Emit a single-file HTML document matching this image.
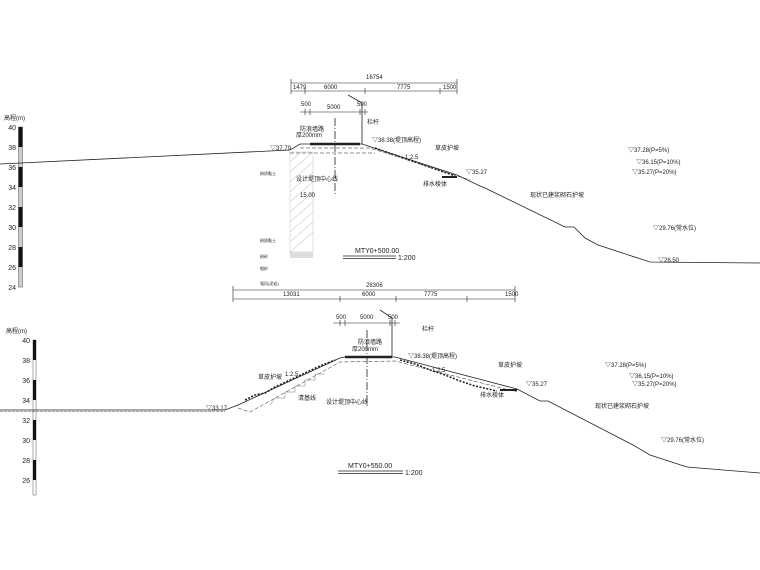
<!DOCTYPE html>
<html><head><meta charset="utf-8"><style>
html,body{margin:0;padding:0;background:#fff;width:760px;height:570px;overflow:hidden}
svg{display:block}
text{font-family:"Liberation Sans","Noto Sans CJK SC",sans-serif;fill:#222}
.s{font-size:6px}.m{font-size:7px}.l{font-size:9px}
</style></head><body>
<svg width="760" height="570" viewBox="0 0 760 570" xmlns="http://www.w3.org/2000/svg" stroke="#222" fill="none" stroke-width="0.8">
<!-- ===== TOP SECTION ===== -->
<text class="s" x="4" y="120" stroke="none">高程(m)</text>
<rect x="18.5" y="127" width="4" height="160" fill="#ccc" stroke="#555" stroke-width="0.5"/>
<g fill="#111" stroke="none">
<rect x="18.5" y="127" width="4" height="20"/><rect x="18.5" y="167" width="4" height="20"/><rect x="18.5" y="207" width="4" height="20"/><rect x="18.5" y="247" width="4" height="20"/></g>
<g class="m" stroke="none" text-anchor="end">
<text x="16" y="130">40</text><text x="16" y="150">38</text><text x="16" y="170">36</text><text x="16" y="190">34</text><text x="16" y="210">32</text><text x="16" y="230">30</text><text x="16" y="250">28</text><text x="16" y="270">26</text><text x="16" y="290">24</text></g>
<polyline points="0,164 290,150 300,144 362,144 457,175 480,186 485,188 565,227 574,227 585,238 598,245 650,262 760,263"/>
<line x1="310" y1="144" x2="360" y2="144" stroke-width="2.5"/>
<polyline points="290,153 375,153" stroke-dasharray="4,2" stroke-width="0.5"/>
<polyline points="300,148 370,148 470,180" stroke-dasharray="4,2" stroke-width="0.5"/>
<line x1="442" y1="177" x2="457" y2="177" stroke-width="2"/>
<polyline points="375,148 455,176" stroke-width="1.5" stroke-dasharray="2,1.5"/>
<line x1="335" y1="118" x2="335" y2="195" stroke-dasharray="8,2,1,2"/>
<line x1="362" y1="103" x2="362" y2="144"/><line x1="362" y1="103" x2="348" y2="95"/>
<rect x="290" y="152" width="23" height="100" stroke-width="0.3" stroke="#999"/>
<g stroke="#999" stroke-width="0.4">
<line x1="290" y1="172" x2="313" y2="152"/><line x1="290" y1="192" x2="313" y2="172"/><line x1="290" y1="212" x2="313" y2="192"/><line x1="290" y1="232" x2="313" y2="212"/><line x1="290" y1="252" x2="313" y2="232"/><line x1="290" y1="162" x2="301" y2="152"/><line x1="290" y1="182" x2="313" y2="162"/><line x1="290" y1="202" x2="313" y2="182"/><line x1="290" y1="222" x2="313" y2="202"/><line x1="290" y1="242" x2="313" y2="222"/></g>
<rect x="290" y="252" width="23" height="6" fill="#ddd" stroke="none"/>
<g stroke="none" fill="#555"><text x="260" y="175" font-size="4">粉质黏土</text><text x="260" y="242" font-size="4">粉质黏土</text><text x="260" y="258" font-size="4">粉砂</text><text x="260" y="270" font-size="4">细砂</text><text x="260" y="285" font-size="4">强风(泥岩)</text></g>
<g stroke-width="0.6">
<line x1="291" y1="83" x2="457" y2="83"/><line x1="291" y1="91" x2="457" y2="91"/>
<line x1="291" y1="79" x2="291" y2="94"/><line x1="457" y1="79" x2="457" y2="94"/>
<line x1="305" y1="88" x2="305" y2="94"/><line x1="365" y1="88" x2="365" y2="94"/><line x1="440" y1="88" x2="440" y2="94"/>
<line x1="300" y1="112" x2="368" y2="112"/>
<line x1="305" y1="109" x2="305" y2="115"/><line x1="310" y1="109" x2="310" y2="115"/><line x1="360" y1="109" x2="360" y2="115"/><line x1="365" y1="109" x2="365" y2="115"/></g>
<g class="s" stroke="none">
<text x="366" y="79">16754</text><text x="293" y="89">1479</text><text x="324" y="89">6000</text><text x="397" y="89">7775</text><text x="443" y="89">1500</text>
<text x="301" y="106">500</text><text x="327" y="109">5000</text><text x="357" y="106">500</text>
<text x="300" y="131">防浪墙路</text><text x="296" y="137">厚200mm</text><text x="367" y="124">栏杆</text>
<text x="372" y="142">▽38.38(堤顶高程)</text><text x="435" y="150">草皮护坡</text><text x="423" y="186">排水棱体</text>
<text x="466" y="174">▽35.27</text><text x="270" y="150">▽37.79</text>
<text x="296" y="181">设计堤顶中心线</text><text x="300" y="197">15.00</text>
<text x="530" y="197">现状已建浆砌石护坡</text><text x="405" y="159">1:2.5</text>
<text x="628" y="152">▽37.28(P=5%)</text><text x="636" y="164">▽36.15(P=10%)</text><text x="632" y="174">▽35.27(P=20%)</text>
<text x="653" y="230">▽29.76(常水位)</text><text x="658" y="262">▽26.50</text></g>
<text class="m" x="355" y="253" stroke="none">MTY0+500.00</text>
<line x1="343" y1="256" x2="396" y2="256"/><line x1="343" y1="258.5" x2="396" y2="258.5"/>
<text class="m" x="398" y="260" stroke="none">1:200</text>

<!-- ===== BOTTOM SECTION ===== -->
<text class="s" x="6" y="333" stroke="none">高程(m)</text>
<rect x="33" y="340" width="3" height="155" fill="#fff" stroke="#555" stroke-width="0.5"/>
<g fill="#111" stroke="none"><rect x="33" y="340" width="3" height="20"/><rect x="33" y="380" width="3" height="20"/><rect x="33" y="420" width="3" height="20"/><rect x="33" y="460" width="3" height="20"/></g>
<g class="m" stroke="none" text-anchor="end">
<text x="30" y="343">40</text><text x="30" y="363">38</text><text x="30" y="383">36</text><text x="30" y="403">34</text><text x="30" y="423">32</text><text x="30" y="443">30</text><text x="30" y="463">28</text><text x="30" y="483">26</text></g>
<polyline points="0,410 225,410 238,405 340,358 345,357 395,357 517,389 540,401 548,401 633,445 650,455 687,467 760,473"/>
<line x1="0" y1="411.5" x2="225" y2="411.5" stroke-dasharray="3,1" stroke-width="0.4"/>
<line x1="345" y1="357" x2="392" y2="357" stroke-width="2.5"/>
<polyline points="238,408 250,412 340,362 395,361 517,392" stroke-dasharray="4,2" stroke-width="0.5"/>
<polyline points="245,400 255,395 265,393 275,387 290,380 305,373 320,366 335,360" stroke-width="1.6" stroke-dasharray="2,1.5"/>
<polyline points="400,360 415,364 430,370 445,375 460,381 475,386 497,391" stroke-width="1.6" stroke-dasharray="2,1.5"/>
<polyline points="270,405 275,398 285,398 285,392 295,392 295,386 305,386 305,380 315,380 315,374 325,374" stroke-width="0.5" stroke="#777"/>
<line x1="500" y1="390" x2="517" y2="390" stroke-width="2"/>
<line x1="367" y1="330" x2="367" y2="408" stroke-dasharray="8,2,1,2"/>
<line x1="392" y1="318" x2="392" y2="357"/><line x1="392" y1="318" x2="380" y2="310"/>
<g stroke-width="0.6">
<line x1="233" y1="290" x2="515" y2="290"/><line x1="233" y1="299" x2="515" y2="299"/>
<line x1="233" y1="286" x2="233" y2="302"/><line x1="515" y1="286" x2="515" y2="302"/>
<line x1="340" y1="296" x2="340" y2="302"/><line x1="396" y1="296" x2="396" y2="302"/><line x1="467" y1="296" x2="467" y2="302"/>
<line x1="333" y1="323" x2="400" y2="323"/>
<line x1="340" y1="320" x2="340" y2="326"/><line x1="345" y1="320" x2="345" y2="326"/><line x1="390" y1="320" x2="390" y2="326"/><line x1="395" y1="320" x2="395" y2="326"/></g>
<g class="s" stroke="none">
<text x="366" y="287">28306</text><text x="283" y="296">13031</text><text x="362" y="296">6000</text><text x="424" y="296">7775</text><text x="505" y="296">1500</text>
<text x="336" y="319">500</text><text x="360" y="319">5000</text><text x="388" y="319">500</text>
<text x="358" y="344">防浪墙路</text><text x="352" y="351">厚200mm</text><text x="422" y="331">栏杆</text>
<text x="408" y="358">▽38.38(堤顶高程)</text><text x="498" y="367">草皮护坡</text><text x="480" y="397">排水棱体</text>
<text x="526" y="386">▽35.27</text><text x="206" y="410">▽33.17</text>
<text x="258" y="379">草皮护坡</text><text x="285" y="376">1:2.5</text><text x="298" y="400">清基线</text>
<text x="326" y="404">设计堤顶中心线</text><text x="432" y="372">1:2.5</text>
<text x="595" y="408">现状已建浆砌石护坡</text>
<text x="605" y="367">▽37.28(P=5%)</text><text x="629" y="378">▽36.15(P=10%)</text><text x="632" y="386">▽35.27(P=20%)</text>
<text x="661" y="442">▽29.76(常水位)</text></g>
<text class="m" x="348" y="468" stroke="none">MTY0+550.00</text>
<line x1="338" y1="471" x2="403" y2="471"/><line x1="338" y1="473.5" x2="403" y2="473.5"/>
<text class="m" x="405" y="475" stroke="none">1:200</text>
</svg>
</body></html>
